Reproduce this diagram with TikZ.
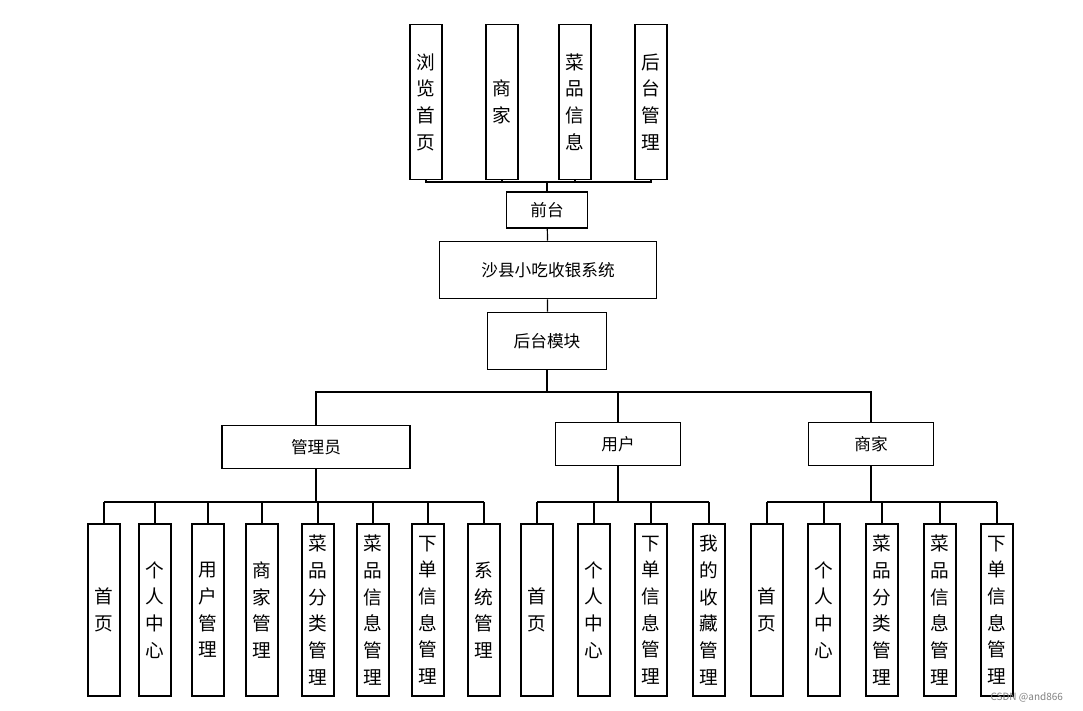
\documentclass[tikz,border=0pt]{standalone}
\usepackage{fontspec}
\setmainfont{Noto Sans CJK SC}
\begin{document}
\begin{tikzpicture}[x=0.75pt,y=-0.75pt,line width=0.9pt,
 v/.style={draw,minimum width=24pt,align=center,font=\fontsize{14}{20}\selectfont,inner sep=0pt},
 h/.style={draw,align=center,font=\fontsize{12.5}{15}\selectfont,inner sep=0pt}]
\useasboundingbox (0,0) rectangle (1083,711);
% top
\foreach \n/\x/\t in {t1/426/浏\\览\\首\\页, t2/502/商\\家, t3/575/菜\\品\\信\\息, t4/651/后\\台\\管\\理}
  \node[v,minimum height=116pt] (\n) at (\x,102) {\t};
\node[h,minimum width=61pt,minimum height=27pt] (qt) at (547,210) {前台};
\node[h,minimum width=163pt,minimum height=43pt] (sys) at (548,270) {沙县小吃收银系统};
\node[h,minimum width=89pt,minimum height=43pt] (ht) at (547,341) {后台模块};
\draw (t1.south) -- (426,182) -- (651,182) -- (t4.south);
\draw (t2.south) -- (502,182) (t3.south) -- (575,182);
\draw (547,182) -- (qt.north);
\draw (qt) -- (sys) (sys) -- (ht);
\node[h,minimum width=141pt,minimum height=32pt] (a) at (316,447) {管理员};
\node[h,minimum width=94pt,minimum height=32pt] (u) at (618,444) {用户};
\node[h,minimum width=94pt,minimum height=32pt] (m) at (871,444) {商家};
\draw (ht.south) -- (547,392);
\draw (a.north) -- (316,392) -- (871,392) -- (m.north);
\draw (618,392) -- (u.north);
% bottom
\foreach \n/\x/\t in {a1/104/首\\页, a2/155/个\\人\\中\\心, a3/208/用\\户\\管\\理, a4/262/商\\家\\管\\理, a5/318/菜\\品\\分\\类\\管\\理, a6/373/菜\\品\\信\\息\\管\\理, a7/428/下\\单\\信\\息\\管\\理, a8/484/系\\统\\管\\理,
 b1/537/首\\页, b2/594/个\\人\\中\\心, b3/651/下\\单\\信\\息\\管\\理, b4/709/我\\的\\收\\藏\\管\\理,
 c1/767/首\\页, c2/824/个\\人\\中\\心, c3/882/菜\\品\\分\\类\\管\\理, c4/940/菜\\品\\信\\息\\管\\理, c5/997/下\\单\\信\\息\\管\\理}
  { \node[v,minimum height=129pt] (\n) at (\x,610) {\t};
    \draw (\n.north) -- (\x,502); }
\draw (104,502) -- (484,502) (537,502) -- (709,502) (767,502) -- (997,502);
\draw (a.south) -- (316,502) (u.south) -- (618,502) (m.south) -- (871,502);
\node[font=\fontsize{7.5}{9}\selectfont,text=gray,anchor=east] (wm) at (1068,697) {CSDN @and866};
\end{tikzpicture}
\end{document}
